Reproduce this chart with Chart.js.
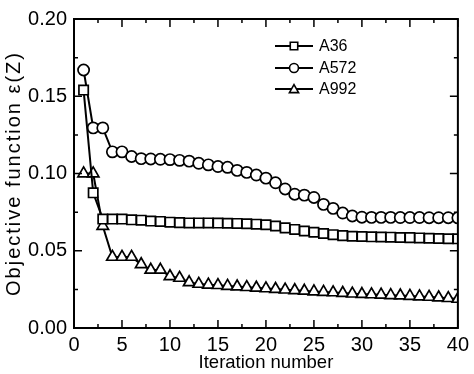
<!DOCTYPE html>
<html lang="en">
<head>
    <meta charset="UTF-8">
    <title>Objective function vs iteration</title>
    <script src="https://cdn.jsdelivr.net/npm/chart.js"></script>
    <style>
        body, html {
            margin: 0;
            padding: 0;
            background: #fff;
        }
        #wrap {
            width: 474px;
            height: 374px;
        }
    </style>
</head>
<body>
<div id="wrap"><canvas id="chart"></canvas></div>
<script>
    // Iteration numbers
    const iterations = [1,2,3,4,5,6,7,8,9,10,11,12,13,14,15,16,17,18,19,20,
                        21,22,23,24,25,26,27,28,29,30,31,32,33,34,35,36,37,38,39,40];

    // Objective function per alloy
    const a36 = [0.154,0.0875,0.0705,0.0705,0.0705,0.0700,0.0698,0.0692,0.0690,0.0685,
                 0.0682,0.0680,0.0680,0.0680,0.0679,0.0678,0.0677,0.0675,0.0672,0.0668,
                 0.0660,0.0648,0.0638,0.0628,0.0620,0.0612,0.0604,0.0598,0.0594,0.0592,
                 0.0590,0.0589,0.0588,0.0586,0.0585,0.0583,0.0581,0.0579,0.0578,0.0577];
    const a572 = [0.167,0.1295,0.1295,0.114,0.114,0.111,0.1096,0.1094,0.1092,0.109,
                  0.1085,0.108,0.1066,0.1056,0.1045,0.104,0.102,0.1007,0.099,0.097,
                  0.094,0.090,0.0866,0.086,0.0845,0.080,0.0774,0.0744,0.0725,0.0717,
                  0.0716,0.0716,0.0716,0.0715,0.0715,0.0715,0.0714,0.0714,0.0714,0.0713];
    const a992 = [0.100,0.100,0.066,0.046,0.046,0.046,0.0412,0.0376,0.0376,0.0334,
                  0.0324,0.0295,0.0285,0.0280,0.0277,0.0272,0.0268,0.0264,0.0260,0.0256,
                  0.0252,0.0248,0.0244,0.0240,0.0236,0.0233,0.0230,0.0226,0.0222,0.0219,
                  0.0217,0.0215,0.0212,0.0210,0.0207,0.0204,0.0201,0.0197,0.0193,0.0188];

    const seriesNames = ['A36', 'A572', 'A992'];
    const xTicks = [0, 5, 10, 15, 20, 25, 30, 35, 40];
    const yTicks = [0.00, 0.05, 0.10, 0.15, 0.20];
    const xTitle = 'Iteration number';
    const yTitle = 'Objective function \u03b5(Z)';

    const FONT = '"Liberation Sans", Arial, sans-serif';

    function toPoints(vals) {
        return vals.map((v, i) => ({ x: iterations[i], y: v }));
    }

    function makeSet(label, vals, style, radius) {
        return {
            label: label,
            data: toPoints(vals),
            borderColor: '#000',
            borderWidth: 2,
            backgroundColor: '#fff',
            pointStyle: style,
            pointRadius: radius,
            pointBorderWidth: 1.7,
            pointBorderColor: '#000',
            pointBackgroundColor: '#fff',
            tension: 0
        };
    }

    // frame, inward ticks on all four sides, axis titles and the legend box
    const framePlugin = {
        id: 'frame',
        afterDraw(chart) {
            const ctx = chart.ctx;
            const a = chart.chartArea;
            const xs = chart.scales.x, ys = chart.scales.y;
            ctx.save();
            ctx.strokeStyle = '#000';
            ctx.lineWidth = 2;
            ctx.strokeRect(a.left, a.top, a.right - a.left, a.bottom - a.top);

            ctx.lineWidth = 1.5;
            ctx.beginPath();
            for (let v = 0; v <= 40; v += 2.5) {
                const px = xs.getPixelForValue(v);
                const len = (v % 5 === 0) ? 8 : 4;
                ctx.moveTo(px, a.bottom); ctx.lineTo(px, a.bottom - len);
                ctx.moveTo(px, a.top); ctx.lineTo(px, a.top + len);
            }
            for (let k = 0; k <= 8; k++) {
                const v = k * 0.025;
                const py = ys.getPixelForValue(v);
                const len = (k % 2 === 0) ? 8 : 4;
                ctx.moveTo(a.left, py); ctx.lineTo(a.left + len, py);
                ctx.moveTo(a.right, py); ctx.lineTo(a.right - len, py);
            }
            ctx.stroke();

            ctx.fillStyle = '#000';
            ctx.textAlign = 'center';
            ctx.textBaseline = 'middle';

            // x title
            ctx.font = '18.5px ' + FONT;
            ctx.fillText(xTitle, (a.left + a.right) / 2, 363);

            // rotated y title, a little spaced out like the original
            ctx.save();
            ctx.translate(14, (a.top + a.bottom) / 2);
            ctx.rotate(-Math.PI / 2);
            ctx.font = '20px ' + FONT;
            ctx.letterSpacing = '2px';
            ctx.fillText(yTitle, 0, 0);
            ctx.restore();

            // legend: line with marker, then label
            const x0 = 275, x1 = 313, rowY = [46, 68, 89];
            ctx.font = '16px ' + FONT;
            ctx.textAlign = 'left';
            chart.data.datasets.forEach((ds, i) => {
                const y = rowY[i];
                ctx.strokeStyle = '#000';
                ctx.lineWidth = 2;
                ctx.beginPath();
                ctx.moveTo(x0, y); ctx.lineTo(x1, y);
                ctx.stroke();
                ctx.fillStyle = '#fff';
                ctx.lineWidth = 1.6;
                Chart.helpers.drawPoint(ctx, {
                    pointStyle: ds.pointStyle,
                    radius: ds.pointRadius * 0.8,
                    rotation: 0,
                    borderWidth: 1.6
                }, (x0 + x1) / 2, y + (ds.pointStyle === 'triangle' ? 1 : 0));
                ctx.fillStyle = '#000';
                ctx.fillText(seriesNames[i], x1 + 6, y + 1);
            });
            ctx.restore();
        }
    };

    new Chart(document.getElementById('chart'), {
        type: 'line',
        data: {
            datasets: [
                makeSet(seriesNames[0], a36, 'rect', 6.6),
                makeSet(seriesNames[1], a572, 'circle', 5.6),
                makeSet(seriesNames[2], a992, 'triangle', 6.6)
            ]
        },
        options: {
            responsive: true,
            maintainAspectRatio: false,
            animation: false,
            layout: { padding: { top: 11, right: 13, left: 0, bottom: 0 } },
            plugins: {
                legend: { display: false },
                tooltip: { enabled: false }
            },
            scales: {
                x: {
                    type: 'linear',
                    min: 0,
                    max: 40,
                    grid: { display: false, drawTicks: false },
                    border: { display: false },
                    afterBuildTicks(scale) {
                        scale.ticks = xTicks.map(v => ({ value: v }));
                    },
                    afterFit(scale) { scale.height = 46; },
                    ticks: {
                        color: '#000',
                        padding: 5,
                        maxRotation: 0,
                        font: { family: FONT, size: 20 },
                        callback: v => String(v)
                    }
                },
                y: {
                    type: 'linear',
                    min: 0,
                    max: 0.2,
                    grid: { display: false, drawTicks: false },
                    border: { display: false },
                    afterBuildTicks(scale) {
                        scale.ticks = yTicks.map(v => ({ value: v }));
                    },
                    afterFit(scale) { scale.width = 74; },
                    ticks: {
                        color: '#000',
                        padding: 7,
                        font: { family: FONT, size: 20 },
                        callback: v => v.toFixed(2)
                    }
                }
            }
        },
        plugins: [framePlugin]
    });
</script>
</body>
</html>
